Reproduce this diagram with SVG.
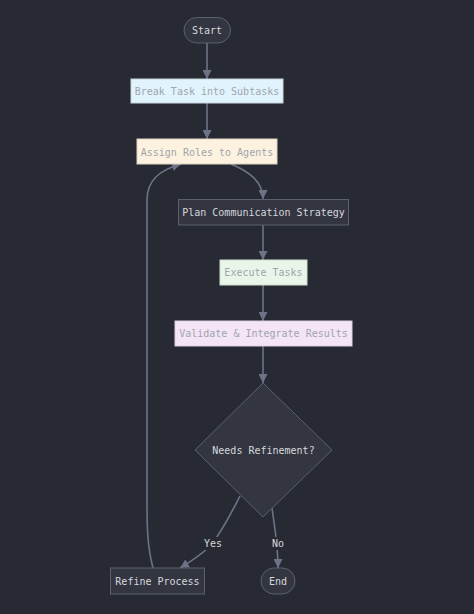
<svg xmlns="http://www.w3.org/2000/svg" width="474" height="614" viewBox="0 0 474 614">
<style>
text{font-family:"DejaVu Sans Mono","Liberation Mono",monospace;font-size:10px;text-anchor:middle;dominant-baseline:central}
.dark{fill:#333641;stroke:#5c606d;stroke-width:1}
.dt{fill:#d6d8de}
.lt{fill:#9fa4ad}
.edge{fill:none;stroke:#6c7386;stroke-width:1.6}
.lbl{fill:#d6d8de}
</style>
<defs>
<marker id="ah" viewBox="0 0 10 10" refX="10" refY="5" markerWidth="9" markerHeight="9" markerUnits="userSpaceOnUse" orient="auto">
<path d="M0,0 L10,5 L0,10 z" fill="#6c7386"/>
</marker>
</defs>
<rect width="474" height="614" fill="#282a33"/>
<g id="edges">
<path class="edge" d="M207,43 L207,79" marker-end="url(#ah)"/>
<path class="edge" d="M207,103 L207,139" marker-end="url(#ah)"/>
<path class="edge" d="M231,164 C250,172 263,182 263,199" marker-end="url(#ah)"/>
<path class="edge" d="M263,225 L263,260" marker-end="url(#ah)"/>
<path class="edge" d="M263,285 L263,321" marker-end="url(#ah)"/>
<path class="edge" d="M263,346 L263,383" marker-end="url(#ah)"/>
<path class="edge" d="M240,496 C230,515 222,532 210,546 C200,556 190,562 180,568" marker-end="url(#ah)"/>
<path class="edge" d="M272,508 C275,530 278,545 278,568" marker-end="url(#ah)"/>
<path class="edge" d="M153,568 C147,545 147,525 147,500 L147,200 C147,180 160,170 181,164" marker-end="url(#ah)"/>
<rect x="203" y="537" width="21" height="13" fill="#282a33"/>
<text class="lbl" x="213" y="543.5">Yes</text>
<rect x="270" y="537" width="16" height="13" fill="#282a33"/>
<text class="lbl" x="278" y="543.5">No</text>
</g>
<g id="start">
<rect class="dark" x="184" y="17.5" width="46.5" height="25.5" rx="12.75"/>
<text class="dt" x="207" y="30.5">Start</text>
</g>
<g id="break">
<rect x="131" y="79" width="152" height="24" fill="#e1f4fd" stroke="#c7d3dc"/>
<text class="lt" x="207" y="91.5">Break Task into Subtasks</text>
</g>
<g id="assign">
<rect x="137" y="139" width="140" height="25" fill="#fdf2df" stroke="#dcd3c4"/>
<text class="lt" x="207" y="152">Assign Roles to Agents</text>
</g>
<g id="plan">
<rect class="dark" x="178.5" y="199.5" width="170" height="25.5"/>
<text class="dt" x="263.5" y="212.5">Plan Communication Strategy</text>
</g>
<g id="execute">
<rect x="220" y="260" width="87" height="25" fill="#e8f6e9" stroke="#cfdcd0"/>
<text class="lt" x="263.5" y="272.5">Execute Tasks</text>
</g>
<g id="validate">
<rect x="175" y="321" width="177" height="25" fill="#f3e5f5" stroke="#dacede"/>
<text class="lt" x="263.5" y="333.5">Validate &amp; Integrate Results</text>
</g>
<g id="decision">
<polygon class="dark" points="263,383 332,450 263,517 195,450"/>
<text class="dt" x="263.5" y="450">Needs Refinement?</text>
</g>
<g id="refine">
<rect class="dark" x="110.5" y="568" width="94" height="26"/>
<text class="dt" x="157.5" y="581">Refine Process</text>
</g>
<g id="end">
<rect class="dark" x="261" y="568" width="34" height="26" rx="13"/>
<text class="dt" x="278" y="581">End</text>
</g>
</svg>
